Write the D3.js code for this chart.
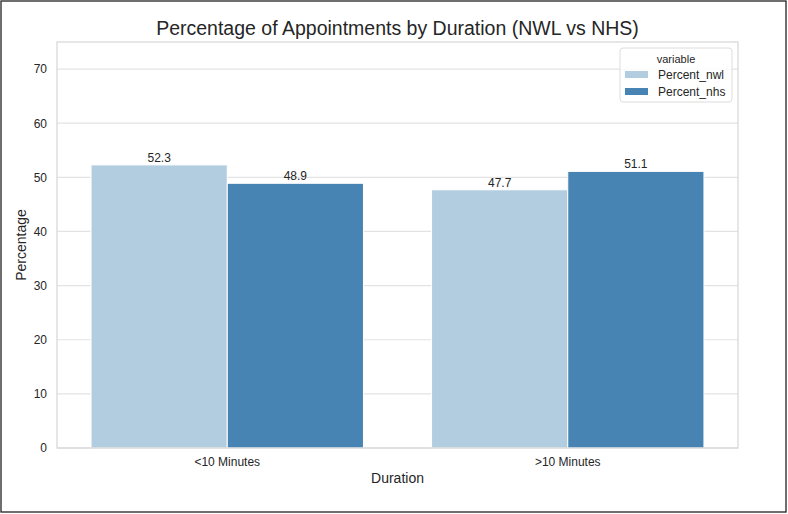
<!DOCTYPE html>
<html>
<head>
<meta charset="utf-8">
<script src="https://cdn.jsdelivr.net/npm/d3@7"></script>
<style>
  body { margin: 0; background: #fff; }
  svg { font-family: "Liberation Sans", Arial, sans-serif; }
</style>
</head>
<body>
<svg class="chart" width="788" height="514"></svg>
<script>
const categories = ["<10 Minutes", ">10 Minutes"];
const seriesNames = ["Percent_nwl", "Percent_nhs"];
const percentNwl = [52.3, 47.7];
const percentNhs = [48.9, 51.1];
const yTicks = [0, 10, 20, 30, 40, 50, 60, 70];

const colors = { Percent_nwl: "#b3cde0", Percent_nhs: "#4884b3" };
const textColor = "#262626";
const gridColor = "#e3e3e3";

const rows = [];
categories.forEach((c, i) => {
  rows.push({ cat: c, variable: "Percent_nwl", value: percentNwl[i] });
  rows.push({ cat: c, variable: "Percent_nhs", value: percentNhs[i] });
});

const svg = d3.select(".chart");
const margin = { top: 42, right: 50, bottom: 66, left: 57 };
const width = +svg.attr("width") - margin.left - margin.right;
const height = +svg.attr("height") - margin.top - margin.bottom;

// outer frame
svg.append("rect")
  .attr("x", 1).attr("y", 1)
  .attr("width", 785).attr("height", 511)
  .attr("fill", "#fff").attr("stroke", "#222").attr("stroke-width", 1.3);

const g = svg.append("g").attr("transform", `translate(${margin.left},${margin.top})`);

const x = d3.scaleBand().domain(categories).range([0, width]).paddingInner(0.2).paddingOuter(0.1);
const xInner = d3.scaleBand().domain(seriesNames).range([0, x.bandwidth()]);
const y = d3.scaleLinear().domain([0, 75]).range([height, 0]);

// grid
g.append("g")
  .selectAll("line")
  .data(yTicks)
  .enter()
  .append("line")
  .attr("x1", 0).attr("x2", width)
  .attr("y1", (d) => y(d)).attr("y2", (d) => y(d))
  .attr("stroke", gridColor).attr("stroke-width", 1.2);

// y axis
const yAxis = d3.axisLeft(y).tickValues(yTicks).tickSize(0).tickPadding(10);
g.append("g").call(yAxis)
  .call((a) => a.select(".domain").remove())
  .selectAll("text")
  .attr("fill", textColor)
  .style("font-size", "12px");

// x axis
const xAxis = d3.axisBottom(x).tickSize(0).tickPadding(9);
g.append("g").attr("transform", `translate(0,${height})`).call(xAxis)
  .call((a) => a.select(".domain").remove())
  .selectAll("text")
  .attr("fill", textColor)
  .style("font-size", "12px");

// bars
g.selectAll(".bar")
  .data(rows)
  .enter()
  .append("rect")
  .attr("class", "bar")
  .attr("x", (d) => x(d.cat) + xInner(d.variable))
  .attr("y", (d) => y(d.value))
  .attr("width", xInner.bandwidth())
  .attr("height", (d) => height - y(d.value))
  .attr("fill", (d) => colors[d.variable])
  .attr("stroke", "#fff")
  .attr("stroke-width", 1);

// value labels
g.selectAll(".label")
  .data(rows)
  .enter()
  .append("text")
  .attr("class", "label")
  .attr("x", (d) => x(d.cat) + xInner(d.variable) + xInner.bandwidth() / 2)
  .attr("y", (d) => y(d.value) - 3)
  .attr("text-anchor", "middle")
  .attr("fill", textColor)
  .style("font-size", "12px")
  .text((d) => d.value.toFixed(1));

// spines
g.append("rect")
  .attr("width", width).attr("height", height)
  .attr("fill", "none").attr("stroke", "#d6d6d6").attr("stroke-width", 1.2);

// title and axis labels
svg.append("text")
  .attr("x", margin.left + width / 2).attr("y", 35)
  .attr("text-anchor", "middle")
  .attr("fill", textColor)
  .style("font-size", "19.5px")
  .text("Percentage of Appointments by Duration (NWL vs NHS)");

svg.append("text")
  .attr("x", margin.left + width / 2).attr("y", 483)
  .attr("text-anchor", "middle")
  .attr("fill", textColor)
  .style("font-size", "14px")
  .text("Duration");

svg.append("text")
  .attr("transform", `translate(26,${margin.top + height / 2}) rotate(-90)`)
  .attr("text-anchor", "middle")
  .attr("fill", textColor)
  .style("font-size", "14px")
  .text("Percentage");

// legend
const legend = svg.append("g").attr("transform", "translate(620,48)");
legend.append("rect")
  .attr("width", 112).attr("height", 54).attr("rx", 3)
  .attr("fill", "#fff").attr("fill-opacity", 0.85)
  .attr("stroke", "#dcdcdc");
legend.append("text")
  .attr("x", 56).attr("y", 15)
  .attr("text-anchor", "middle")
  .attr("fill", textColor)
  .style("font-size", "11px")
  .text("variable");
seriesNames.forEach((s, i) => {
  const row = legend.append("g").attr("transform", `translate(5,${23 + i * 17})`);
  row.append("rect").attr("width", 23).attr("height", 7).attr("fill", colors[s]);
  row.append("text")
    .attr("x", 33).attr("y", 8)
    .attr("fill", textColor)
    .style("font-size", "12px")
    .text(s);
});
</script>
</body>
</html>
